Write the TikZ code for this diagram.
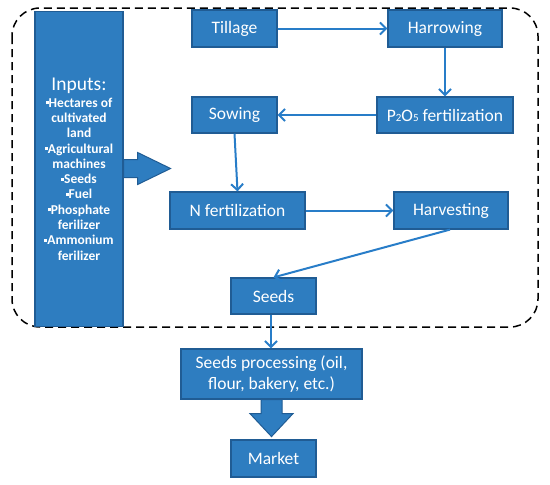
\documentclass[tikz,border=0pt]{standalone}
\usepackage{fontspec}
\setmainfont{Carlito}
\usetikzlibrary{arrows.meta,calc}
\definecolor{boxfill}{RGB}{46,125,192}
\definecolor{boxline}{RGB}{32,92,148}
\definecolor{arrowblue}{RGB}{40,125,200}
\newcommand\sqb{\raisebox{2.8pt}{\rule{3pt}{3pt}}}
\tikzset{
  stepbox/.style={draw=boxline, line width=1.2pt, fill=boxfill, text=white,
    font=\fontsize{17.5}{21}\selectfont, inner sep=0pt, align=center},
  flow/.style={draw=arrowblue, line width=2pt, -{Straight Barb[length=6pt,width=12pt,line width=2pt]}},
  blockarrow/.style={draw=boxline, line width=1pt, fill=boxfill},
}
\begin{document}
\begin{tikzpicture}[x=1pt,y=-1pt]
\useasboundingbox (0,0) rectangle (550,485);
% dashed boundary
\draw[line width=1.5pt, dash pattern=on 8pt off 5pt, rounded corners=28pt] (12,8) rectangle (538,327);
% nodes
\node[stepbox, minimum width=88pt, minimum height=315pt,
      font=\fontsize{13.5}{15.3}\selectfont\bfseries] (inputs) at (79,169)
  {{\fontsize{19.5}{23}\mdseries\selectfont Inputs:}\\[1.5pt]
   \sqb Hectares of\\ cultivated\\ land\\ \sqb Agricultural\\ machines\\ \sqb Seeds\\ \sqb Fuel\\ \sqb Phosphate\\ ferilizer\\ \sqb Ammonium\\ ferilizer};
\node[stepbox, minimum width=85pt, minimum height=37pt] (tillage) at (234.5,28.5) {Tillage};
\node[stepbox, minimum width=114pt, minimum height=37pt] (harrowing) at (445,28.5) {Harrowing};
\node[stepbox, minimum width=85pt, minimum height=36pt] (sowing) at (234.5,115) {Sowing};
\node[stepbox, minimum width=136pt, minimum height=36pt] (p2o5) at (445,115) {P{\fontsize{11}{11}\selectfont 2}O{\fontsize{11}{11}\selectfont 5} fertilization};
\node[stepbox, minimum width=135pt, minimum height=37pt] (nfert) at (237.5,210.5) {N fertilization};
\node[stepbox, minimum width=114pt, minimum height=37pt] (harvest) at (451,210.5) {Harvesting};
\node[stepbox, minimum width=85pt, minimum height=36pt] (seeds) at (273.5,296) {Seeds};
\node[stepbox, minimum width=181pt, minimum height=50pt] (proc) at (271.5,374) {Seeds processing (oil,\\ flour, bakery, etc.)};
\node[stepbox, minimum width=85pt, minimum height=37pt] (market) at (273.5,458.5) {Market};
% block arrows
\draw[blockarrow] ($(inputs.east)+(0,-9.5)$) -- ++(14,0) -- ++(0,-7) -- ++(33,16) -- ++(-33,16) -- ++(0,-7) -- ++(-14,0) -- cycle;
\draw[blockarrow] ($(proc.south)+(-10.5,0)$) -- ++(0,14) -- ++(-11,0) -- ++(21.5,23) -- ++(21.5,-23) -- ++(-11,0) -- ++(0,-14) -- cycle;
% connectors
\draw[flow] (tillage.east) -- (harrowing.west);
\draw[flow] (harrowing.south) -- (p2o5.north);
\draw[flow] (p2o5.west) -- (sowing.east);
\draw[flow] (sowing.south) -- (nfert.north);
\draw[flow] (nfert.east) -- (harvest.west);
\draw[flow] ($(harvest.south)+(-1,0)$) -- (seeds.north);
\draw[flow] ($(seeds.south)+(-2.5,0)$) -- ($(proc.north)+(-0.5,0)$);
\end{tikzpicture}
\end{document}
